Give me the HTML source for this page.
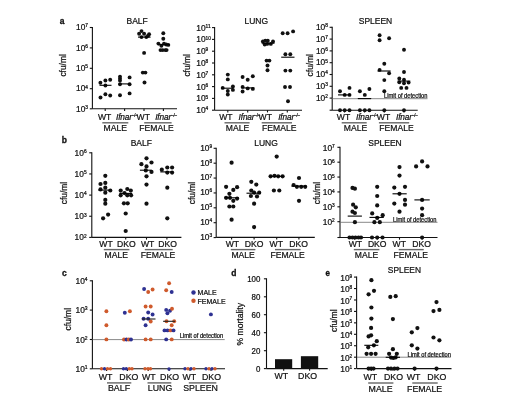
<!DOCTYPE html>
<html><head><meta charset="utf-8"><title>Figure</title>
<style>
html,body{margin:0;padding:0;background:#fff;}
body{width:520px;height:411px;overflow:hidden;}
svg{display:block;}
svg text{font-family:'Liberation Sans', Arial, Helvetica, sans-serif;fill:#111;stroke:#111;stroke-width:0.22px;}
svg text.pl{stroke-width:0.3px;}
</style></head><body>
<svg width="520" height="411" viewBox="0 0 520 411">
<rect width="520" height="411" fill="#fff"/>
<text transform="translate(59.8 23.6) scale(1 1.1)" font-size="8.5" class="pl" font-weight="bold">a</text>
<line x1="92.4" y1="27" x2="92.4" y2="108.8" stroke="#111" stroke-width="1.1"/>
<line x1="89.8" y1="27.5" x2="92.4" y2="27.5" stroke="#111" stroke-width="1.1"/>
<text transform="translate(75.98 30.2) scale(1 1.1)" font-size="8.4">10<tspan font-size="4.8" dy="-2.5">7</tspan></text>
<line x1="89.8" y1="47.9" x2="92.4" y2="47.9" stroke="#111" stroke-width="1.1"/>
<text transform="translate(75.98 50.6) scale(1 1.1)" font-size="8.4">10<tspan font-size="4.8" dy="-2.5">6</tspan></text>
<line x1="89.8" y1="68.3" x2="92.4" y2="68.3" stroke="#111" stroke-width="1.1"/>
<text transform="translate(75.98 71) scale(1 1.1)" font-size="8.4">10<tspan font-size="4.8" dy="-2.5">5</tspan></text>
<line x1="89.8" y1="88.7" x2="92.4" y2="88.7" stroke="#111" stroke-width="1.1"/>
<text transform="translate(75.98 91.4) scale(1 1.1)" font-size="8.4">10<tspan font-size="4.8" dy="-2.5">4</tspan></text>
<line x1="89.8" y1="108.8" x2="92.4" y2="108.8" stroke="#111" stroke-width="1.1"/>
<text transform="translate(75.98 111.5) scale(1 1.1)" font-size="8.4">10<tspan font-size="4.8" dy="-2.5">3</tspan></text>
<line x1="92.4" y1="108.8" x2="177" y2="108.8" stroke="#111" stroke-width="1.1"/>
<line x1="105.2" y1="108.8" x2="105.2" y2="111" stroke="#111" stroke-width="1.1"/>
<line x1="124.6" y1="108.8" x2="124.6" y2="111" stroke="#111" stroke-width="1.1"/>
<line x1="144" y1="108.8" x2="144" y2="111" stroke="#111" stroke-width="1.1"/>
<line x1="163.4" y1="108.8" x2="163.4" y2="111" stroke="#111" stroke-width="1.1"/>
<text transform="translate(137.1 23.5) scale(1 1.1)" font-size="8.5" text-anchor="middle">BALF</text>
<text transform="translate(63 65.4) rotate(-90) scale(1 1.1)" font-size="8.4" text-anchor="middle" dominant-baseline="central">cfu/ml</text>
<text transform="translate(104.6 119.8) scale(1 1.1)" font-size="8.6" text-anchor="middle">WT</text>
<text transform="translate(116 119.8) scale(1 1.1)" font-size="8.3"><tspan font-style="italic" letter-spacing="-0.15">Ifnar</tspan><tspan font-size="4.4" dy="-2.8" dx="0.1" letter-spacing="-0.2">–/–</tspan></text>
<text transform="translate(143.2 119.8) scale(1 1.1)" font-size="8.6" text-anchor="middle">WT</text>
<text transform="translate(155.2 119.8) scale(1 1.1)" font-size="8.3"><tspan font-style="italic" letter-spacing="-0.15">Ifnar</tspan><tspan font-size="4.4" dy="-2.8" dx="0.1" letter-spacing="-0.2">–/–</tspan></text>
<line x1="102.3" y1="122.8" x2="128.3" y2="122.8" stroke="#666" stroke-width="1.4"/>
<line x1="144.2" y1="122.8" x2="171.6" y2="122.8" stroke="#666" stroke-width="1.4"/>
<text transform="translate(115.3 130.8) scale(1 1.1)" font-size="8.6" text-anchor="middle">MALE</text>
<text transform="translate(156.5 130.8) scale(1 1.1)" font-size="8.6" text-anchor="middle">FEMALE</text>
<circle cx="100.4" cy="82.8" r="1.95" fill="#111"/>
<circle cx="105.4" cy="80.5" r="1.95" fill="#111"/>
<circle cx="110.2" cy="79.8" r="1.95" fill="#111"/>
<circle cx="105.4" cy="85.5" r="1.95" fill="#111"/>
<circle cx="105.4" cy="94.3" r="1.95" fill="#111"/>
<circle cx="110.2" cy="95.5" r="1.95" fill="#111"/>
<circle cx="100.5" cy="97.5" r="1.95" fill="#111"/>
<line x1="99.5" y1="85.3" x2="111.5" y2="85.3" stroke="#000" stroke-width="1.1"/>
<circle cx="120" cy="76.6" r="1.95" fill="#111"/>
<circle cx="120" cy="78.6" r="1.95" fill="#111"/>
<circle cx="120" cy="80.6" r="1.95" fill="#111"/>
<circle cx="129.6" cy="77.4" r="1.95" fill="#111"/>
<circle cx="120" cy="84.3" r="1.95" fill="#111"/>
<circle cx="129.6" cy="84.2" r="1.95" fill="#111"/>
<circle cx="129.6" cy="93.4" r="1.95" fill="#111"/>
<circle cx="120" cy="95.2" r="1.95" fill="#111"/>
<line x1="118.5" y1="83.9" x2="130.7" y2="83.9" stroke="#000" stroke-width="1.1"/>
<circle cx="141.5" cy="31.1" r="1.95" fill="#111"/>
<circle cx="139.1" cy="33.7" r="1.95" fill="#111"/>
<circle cx="144.1" cy="33.7" r="1.95" fill="#111"/>
<circle cx="149.1" cy="34.3" r="1.95" fill="#111"/>
<circle cx="141.5" cy="37.1" r="1.95" fill="#111"/>
<circle cx="146.3" cy="37.1" r="1.95" fill="#111"/>
<circle cx="148" cy="35.8" r="1.95" fill="#111"/>
<circle cx="144.1" cy="52.9" r="1.95" fill="#111"/>
<circle cx="142.8" cy="72.6" r="1.95" fill="#111"/>
<circle cx="145.4" cy="72.6" r="1.95" fill="#111"/>
<circle cx="144.5" cy="82.5" r="1.95" fill="#111"/>
<line x1="138" y1="37.1" x2="150.6" y2="37.1" stroke="#000" stroke-width="1.1"/>
<circle cx="163.3" cy="33.2" r="1.95" fill="#111"/>
<circle cx="163.3" cy="38.7" r="1.95" fill="#111"/>
<circle cx="158.4" cy="43.6" r="1.95" fill="#111"/>
<circle cx="161.4" cy="45.8" r="1.95" fill="#111"/>
<circle cx="164" cy="43.6" r="1.95" fill="#111"/>
<circle cx="166.2" cy="44.5" r="1.95" fill="#111"/>
<circle cx="168.3" cy="44.9" r="1.95" fill="#111"/>
<circle cx="160.5" cy="50.1" r="1.95" fill="#111"/>
<circle cx="162.7" cy="50.1" r="1.95" fill="#111"/>
<circle cx="165.3" cy="50.1" r="1.95" fill="#111"/>
<circle cx="166.6" cy="50.1" r="1.95" fill="#111"/>
<line x1="158" y1="44.7" x2="169.6" y2="44.7" stroke="#000" stroke-width="1.1"/>
<line x1="214.6" y1="27.1" x2="214.6" y2="110.2" stroke="#111" stroke-width="1.1"/>
<line x1="212" y1="27.6" x2="214.6" y2="27.6" stroke="#111" stroke-width="1.1"/>
<text transform="translate(196.28 30.6) scale(1 1.1)" font-size="8.4">10<tspan font-size="4.8" dy="-2.5">11</tspan></text>
<line x1="212" y1="39.4" x2="214.6" y2="39.4" stroke="#111" stroke-width="1.1"/>
<text transform="translate(196.28 42.4) scale(1 1.1)" font-size="8.4">10<tspan font-size="4.8" dy="-2.5">10</tspan></text>
<line x1="212" y1="51.2" x2="214.6" y2="51.2" stroke="#111" stroke-width="1.1"/>
<text transform="translate(196.28 54.2) scale(1 1.1)" font-size="8.4">10<tspan font-size="4.8" dy="-2.5">9</tspan></text>
<line x1="212" y1="63" x2="214.6" y2="63" stroke="#111" stroke-width="1.1"/>
<text transform="translate(196.28 66) scale(1 1.1)" font-size="8.4">10<tspan font-size="4.8" dy="-2.5">8</tspan></text>
<line x1="212" y1="74.8" x2="214.6" y2="74.8" stroke="#111" stroke-width="1.1"/>
<text transform="translate(196.28 77.8) scale(1 1.1)" font-size="8.4">10<tspan font-size="4.8" dy="-2.5">7</tspan></text>
<line x1="212" y1="86.6" x2="214.6" y2="86.6" stroke="#111" stroke-width="1.1"/>
<text transform="translate(196.28 89.6) scale(1 1.1)" font-size="8.4">10<tspan font-size="4.8" dy="-2.5">6</tspan></text>
<line x1="212" y1="98.4" x2="214.6" y2="98.4" stroke="#111" stroke-width="1.1"/>
<text transform="translate(196.28 101.4) scale(1 1.1)" font-size="8.4">10<tspan font-size="4.8" dy="-2.5">5</tspan></text>
<line x1="212" y1="110.2" x2="214.6" y2="110.2" stroke="#111" stroke-width="1.1"/>
<text transform="translate(196.28 113.2) scale(1 1.1)" font-size="8.4">10<tspan font-size="4.8" dy="-2.5">4</tspan></text>
<line x1="214.6" y1="110.2" x2="302" y2="110.2" stroke="#111" stroke-width="1.1"/>
<line x1="227.8" y1="110.2" x2="227.8" y2="112.4" stroke="#111" stroke-width="1.1"/>
<line x1="247.7" y1="110.2" x2="247.7" y2="112.4" stroke="#111" stroke-width="1.1"/>
<line x1="267.5" y1="110.2" x2="267.5" y2="112.4" stroke="#111" stroke-width="1.1"/>
<line x1="287.3" y1="110.2" x2="287.3" y2="112.4" stroke="#111" stroke-width="1.1"/>
<text transform="translate(256.3 23.5) scale(1 1.1)" font-size="8.5" text-anchor="middle">LUNG</text>
<text transform="translate(187 65.4) rotate(-90) scale(1 1.1)" font-size="8.4" text-anchor="middle" dominant-baseline="central">cfu/ml</text>
<text transform="translate(225.8 119.8) scale(1 1.1)" font-size="8.6" text-anchor="middle">WT</text>
<text transform="translate(238.6 119.8) scale(1 1.1)" font-size="8.3"><tspan font-style="italic" letter-spacing="-0.15">Ifnar</tspan><tspan font-size="4.4" dy="-2.8" dx="0.1" letter-spacing="-0.2">–/–</tspan></text>
<text transform="translate(265.2 119.8) scale(1 1.1)" font-size="8.6" text-anchor="middle">WT</text>
<text transform="translate(278.2 119.8) scale(1 1.1)" font-size="8.3"><tspan font-style="italic" letter-spacing="-0.15">Ifnar</tspan><tspan font-size="4.4" dy="-2.8" dx="0.1" letter-spacing="-0.2">–/–</tspan></text>
<line x1="224.5" y1="122.8" x2="249.6" y2="122.8" stroke="#666" stroke-width="1.4"/>
<line x1="261.7" y1="122.8" x2="292" y2="122.8" stroke="#666" stroke-width="1.4"/>
<text transform="translate(237.5 130.8) scale(1 1.1)" font-size="8.6" text-anchor="middle">MALE</text>
<text transform="translate(279.3 130.8) scale(1 1.1)" font-size="8.6" text-anchor="middle">FEMALE</text>
<circle cx="227.8" cy="74.6" r="1.95" fill="#111"/>
<circle cx="227.8" cy="79.4" r="1.95" fill="#111"/>
<circle cx="222.7" cy="87.9" r="1.95" fill="#111"/>
<circle cx="227.8" cy="91" r="1.95" fill="#111"/>
<circle cx="227.8" cy="94.5" r="1.95" fill="#111"/>
<circle cx="232.9" cy="86.4" r="1.95" fill="#111"/>
<circle cx="232.9" cy="89.9" r="1.95" fill="#111"/>
<line x1="221.6" y1="88.2" x2="233.4" y2="88.2" stroke="#000" stroke-width="1.1"/>
<circle cx="242.6" cy="77" r="1.95" fill="#111"/>
<circle cx="247.7" cy="79.7" r="1.95" fill="#111"/>
<circle cx="252.8" cy="76.3" r="1.95" fill="#111"/>
<circle cx="242.6" cy="86.9" r="1.95" fill="#111"/>
<circle cx="242.6" cy="91.5" r="1.95" fill="#111"/>
<circle cx="247.7" cy="88.4" r="1.95" fill="#111"/>
<circle cx="252.8" cy="88.9" r="1.95" fill="#111"/>
<line x1="241.6" y1="87.9" x2="254.4" y2="87.9" stroke="#000" stroke-width="1.1"/>
<circle cx="262.9" cy="41.4" r="1.95" fill="#111"/>
<circle cx="265.3" cy="40.6" r="1.95" fill="#111"/>
<circle cx="267.8" cy="40.8" r="1.95" fill="#111"/>
<circle cx="264.7" cy="44.5" r="1.95" fill="#111"/>
<circle cx="267.2" cy="43.9" r="1.95" fill="#111"/>
<circle cx="270.8" cy="43.9" r="1.95" fill="#111"/>
<circle cx="273" cy="41.4" r="1.95" fill="#111"/>
<circle cx="266.6" cy="60.6" r="1.95" fill="#111"/>
<circle cx="269.4" cy="60.6" r="1.95" fill="#111"/>
<circle cx="267.5" cy="65.5" r="1.95" fill="#111"/>
<circle cx="267.5" cy="70.3" r="1.95" fill="#111"/>
<line x1="261.7" y1="43.2" x2="274.5" y2="43.2" stroke="#000" stroke-width="1.1"/>
<circle cx="282.7" cy="33.3" r="1.95" fill="#111"/>
<circle cx="287.6" cy="33.3" r="1.95" fill="#111"/>
<circle cx="293.1" cy="31.4" r="1.95" fill="#111"/>
<circle cx="285.4" cy="54.2" r="1.95" fill="#111"/>
<circle cx="290.3" cy="54.2" r="1.95" fill="#111"/>
<circle cx="285.4" cy="70.6" r="1.95" fill="#111"/>
<circle cx="290.3" cy="70.6" r="1.95" fill="#111"/>
<circle cx="285" cy="87" r="1.95" fill="#111"/>
<circle cx="290" cy="87" r="1.95" fill="#111"/>
<circle cx="288" cy="101.25" r="1.95" fill="#111"/>
<line x1="281.2" y1="57.2" x2="294.5" y2="57.2" stroke="#000" stroke-width="1.1"/>
<line x1="332.2" y1="26.8" x2="332.2" y2="110.2" stroke="#111" stroke-width="1.1"/>
<line x1="329.6" y1="27.3" x2="332.2" y2="27.3" stroke="#111" stroke-width="1.1"/>
<text transform="translate(315.88 29.9) scale(1 1.1)" font-size="8.4">10<tspan font-size="4.8" dy="-2.4">8</tspan></text>
<line x1="329.6" y1="39.1" x2="332.2" y2="39.1" stroke="#111" stroke-width="1.1"/>
<text transform="translate(315.88 41.7) scale(1 1.1)" font-size="8.4">10<tspan font-size="4.8" dy="-2.4">7</tspan></text>
<line x1="329.6" y1="50.9" x2="332.2" y2="50.9" stroke="#111" stroke-width="1.1"/>
<text transform="translate(315.88 53.5) scale(1 1.1)" font-size="8.4">10<tspan font-size="4.8" dy="-2.4">6</tspan></text>
<line x1="329.6" y1="62.7" x2="332.2" y2="62.7" stroke="#111" stroke-width="1.1"/>
<text transform="translate(315.88 65.3) scale(1 1.1)" font-size="8.4">10<tspan font-size="4.8" dy="-2.4">5</tspan></text>
<line x1="329.6" y1="74.5" x2="332.2" y2="74.5" stroke="#111" stroke-width="1.1"/>
<text transform="translate(315.88 77.1) scale(1 1.1)" font-size="8.4">10<tspan font-size="4.8" dy="-2.4">4</tspan></text>
<line x1="329.6" y1="86.3" x2="332.2" y2="86.3" stroke="#111" stroke-width="1.1"/>
<text transform="translate(315.88 88.9) scale(1 1.1)" font-size="8.4">10<tspan font-size="4.8" dy="-2.4">3</tspan></text>
<line x1="329.6" y1="98.1" x2="332.2" y2="98.1" stroke="#111" stroke-width="1.1"/>
<text transform="translate(315.88 100.7) scale(1 1.1)" font-size="8.4">10<tspan font-size="4.8" dy="-2.4">2</tspan></text>
<line x1="329.6" y1="110.2" x2="332.2" y2="110.2" stroke="#111" stroke-width="1.1"/>
<line x1="332.2" y1="110.2" x2="417.7" y2="110.2" stroke="#111" stroke-width="1.1"/>
<line x1="344.5" y1="110.2" x2="344.5" y2="112.4" stroke="#111" stroke-width="1.1"/>
<line x1="364.5" y1="110.2" x2="364.5" y2="112.4" stroke="#111" stroke-width="1.1"/>
<line x1="384.3" y1="110.2" x2="384.3" y2="112.4" stroke="#111" stroke-width="1.1"/>
<line x1="404" y1="110.2" x2="404" y2="112.4" stroke="#111" stroke-width="1.1"/>
<line x1="332.2" y1="98.7" x2="427.5" y2="98.7" stroke="#6a6a6a" stroke-width="0.8"/>
<text transform="translate(427.4 98) scale(1 1.1)" font-size="5.75" text-anchor="end" fill="#222">Limit of detection</text>
<text transform="translate(375.5 23.5) scale(1 1.1)" font-size="8.5" text-anchor="middle">SPLEEN</text>
<text transform="translate(310 65.2) rotate(-90) scale(1 1.1)" font-size="8.4" text-anchor="middle" dominant-baseline="central">cfu/ml</text>
<text transform="translate(343.5 119.8) scale(1 1.1)" font-size="8.6" text-anchor="middle">WT</text>
<text transform="translate(356 119.8) scale(1 1.1)" font-size="8.3"><tspan font-style="italic" letter-spacing="-0.15">Ifnar</tspan><tspan font-size="4.4" dy="-2.8" dx="0.1" letter-spacing="-0.2">–/–</tspan></text>
<text transform="translate(383.5 119.8) scale(1 1.1)" font-size="8.6" text-anchor="middle">WT</text>
<text transform="translate(396 119.8) scale(1 1.1)" font-size="8.3"><tspan font-style="italic" letter-spacing="-0.15">Ifnar</tspan><tspan font-size="4.4" dy="-2.8" dx="0.1" letter-spacing="-0.2">–/–</tspan></text>
<line x1="341.7" y1="122.8" x2="366.7" y2="122.8" stroke="#666" stroke-width="1.4"/>
<line x1="378.9" y1="122.8" x2="409.2" y2="122.8" stroke="#666" stroke-width="1.4"/>
<text transform="translate(355.5 130.8) scale(1 1.1)" font-size="8.6" text-anchor="middle">MALE</text>
<text transform="translate(396.5 130.8) scale(1 1.1)" font-size="8.6" text-anchor="middle">FEMALE</text>
<circle cx="340" cy="91.3" r="1.95" fill="#111"/>
<circle cx="344.7" cy="94.9" r="1.95" fill="#111"/>
<circle cx="349.5" cy="94.9" r="1.95" fill="#111"/>
<circle cx="349.5" cy="87.9" r="1.95" fill="#111"/>
<circle cx="340" cy="110.2" r="1.95" fill="#111"/>
<circle cx="344.7" cy="110.2" r="1.95" fill="#111"/>
<circle cx="349.5" cy="110.2" r="1.95" fill="#111"/>
<line x1="338" y1="94.9" x2="351" y2="94.9" stroke="#000" stroke-width="1.1"/>
<circle cx="359.9" cy="91.3" r="1.95" fill="#111"/>
<circle cx="364.8" cy="94.9" r="1.95" fill="#111"/>
<circle cx="369.4" cy="89" r="1.95" fill="#111"/>
<circle cx="359.9" cy="110.2" r="1.95" fill="#111"/>
<circle cx="364.8" cy="110.2" r="1.95" fill="#111"/>
<circle cx="369.4" cy="110.2" r="1.95" fill="#111"/>
<line x1="357.8" y1="98.6" x2="371.2" y2="98.6" stroke="#000" stroke-width="1.1"/>
<circle cx="379.6" cy="35.2" r="1.95" fill="#111"/>
<circle cx="379.6" cy="40.3" r="1.95" fill="#111"/>
<circle cx="389.1" cy="38.3" r="1.95" fill="#111"/>
<circle cx="384.3" cy="63.8" r="1.95" fill="#111"/>
<circle cx="379.6" cy="69.9" r="1.95" fill="#111"/>
<circle cx="389.1" cy="73.3" r="1.95" fill="#111"/>
<circle cx="384.3" cy="80.1" r="1.95" fill="#111"/>
<circle cx="384.3" cy="91.3" r="1.95" fill="#111"/>
<circle cx="384.3" cy="110.2" r="1.95" fill="#111"/>
<line x1="377.5" y1="71" x2="390.6" y2="71" stroke="#000" stroke-width="1.1"/>
<circle cx="404" cy="49.8" r="1.95" fill="#111"/>
<circle cx="404" cy="72" r="1.95" fill="#111"/>
<circle cx="399.3" cy="78.4" r="1.95" fill="#111"/>
<circle cx="399.3" cy="82.2" r="1.95" fill="#111"/>
<circle cx="404" cy="79.7" r="1.95" fill="#111"/>
<circle cx="404" cy="83.3" r="1.95" fill="#111"/>
<circle cx="408.6" cy="82.6" r="1.95" fill="#111"/>
<circle cx="401.2" cy="87.9" r="1.95" fill="#111"/>
<circle cx="406.5" cy="87.9" r="1.95" fill="#111"/>
<circle cx="404" cy="110.2" r="1.95" fill="#111"/>
<line x1="397.6" y1="81.1" x2="410.3" y2="81.1" stroke="#000" stroke-width="1.1"/>
<text transform="translate(61.7 143.1) scale(1 1.1)" font-size="8.5" class="pl" font-weight="bold">b</text>
<line x1="91.8" y1="152.3" x2="91.8" y2="237.4" stroke="#111" stroke-width="1.1"/>
<line x1="89.2" y1="152.8" x2="91.8" y2="152.8" stroke="#111" stroke-width="1.1"/>
<text transform="translate(74.58 155.8) scale(1 1.1)" font-size="8.4">10<tspan font-size="4.8" dy="-2.5">6</tspan></text>
<line x1="89.2" y1="173.95" x2="91.8" y2="173.95" stroke="#111" stroke-width="1.1"/>
<text transform="translate(74.58 176.95) scale(1 1.1)" font-size="8.4">10<tspan font-size="4.8" dy="-2.5">5</tspan></text>
<line x1="89.2" y1="195.1" x2="91.8" y2="195.1" stroke="#111" stroke-width="1.1"/>
<text transform="translate(74.58 198.1) scale(1 1.1)" font-size="8.4">10<tspan font-size="4.8" dy="-2.5">4</tspan></text>
<line x1="89.2" y1="216.25" x2="91.8" y2="216.25" stroke="#111" stroke-width="1.1"/>
<text transform="translate(74.58 219.25) scale(1 1.1)" font-size="8.4">10<tspan font-size="4.8" dy="-2.5">3</tspan></text>
<line x1="89.2" y1="237.4" x2="91.8" y2="237.4" stroke="#111" stroke-width="1.1"/>
<text transform="translate(74.58 240.4) scale(1 1.1)" font-size="8.4">10<tspan font-size="4.8" dy="-2.5">2</tspan></text>
<line x1="91.8" y1="237.4" x2="181.4" y2="237.4" stroke="#111" stroke-width="1.1"/>
<line x1="105.3" y1="237.4" x2="105.3" y2="239.6" stroke="#111" stroke-width="1.1"/>
<line x1="125.7" y1="237.4" x2="125.7" y2="239.6" stroke="#111" stroke-width="1.1"/>
<line x1="146.5" y1="237.4" x2="146.5" y2="239.6" stroke="#111" stroke-width="1.1"/>
<line x1="166.9" y1="237.4" x2="166.9" y2="239.6" stroke="#111" stroke-width="1.1"/>
<text transform="translate(141.3 145.7) scale(1 1.1)" font-size="8.5" text-anchor="middle">BALF</text>
<text transform="translate(63.5 193.1) rotate(-90) scale(1 1.1)" font-size="8.4" text-anchor="middle" dominant-baseline="central">cfu/ml</text>
<text transform="translate(106 246.8) scale(1 1.1)" font-size="8.6" text-anchor="middle">WT</text>
<text transform="translate(126.4 246.8) scale(1 1.1)" font-size="8.6" text-anchor="middle">DKO</text>
<text transform="translate(147.6 246.8) scale(1 1.1)" font-size="8.6" text-anchor="middle">WT</text>
<text transform="translate(167.5 246.8) scale(1 1.1)" font-size="8.6" text-anchor="middle">DKO</text>
<line x1="103.8" y1="249.6" x2="129.4" y2="249.6" stroke="#666" stroke-width="1.4"/>
<line x1="144.8" y1="249.6" x2="172.7" y2="249.6" stroke="#666" stroke-width="1.4"/>
<text transform="translate(116.3 258) scale(1 1.1)" font-size="8.6" text-anchor="middle">MALE</text>
<text transform="translate(158 258) scale(1 1.1)" font-size="8.6" text-anchor="middle">FEMALE</text>
<circle cx="105.3" cy="175.8" r="2.1" fill="#111"/>
<circle cx="105.3" cy="182.9" r="2.1" fill="#111"/>
<circle cx="100.5" cy="184" r="2.1" fill="#111"/>
<circle cx="100.5" cy="189.4" r="2.1" fill="#111"/>
<circle cx="105.3" cy="187.7" r="2.1" fill="#111"/>
<circle cx="110.3" cy="190.5" r="2.1" fill="#111"/>
<circle cx="105.3" cy="192.7" r="2.1" fill="#111"/>
<circle cx="105.3" cy="199.9" r="2.1" fill="#111"/>
<circle cx="105.3" cy="203.7" r="2.1" fill="#111"/>
<circle cx="103.1" cy="218.3" r="2.1" fill="#111"/>
<circle cx="108.1" cy="214.6" r="2.1" fill="#111"/>
<line x1="98.3" y1="190.1" x2="110.3" y2="190.1" stroke="#000" stroke-width="1.1"/>
<circle cx="120.7" cy="190.6" r="2.1" fill="#111"/>
<circle cx="127.3" cy="189" r="2.1" fill="#111"/>
<circle cx="130.8" cy="190.6" r="2.1" fill="#111"/>
<circle cx="124.5" cy="193.1" r="2.1" fill="#111"/>
<circle cx="120.7" cy="195.3" r="2.1" fill="#111"/>
<circle cx="127.3" cy="195.3" r="2.1" fill="#111"/>
<circle cx="131.1" cy="195.3" r="2.1" fill="#111"/>
<circle cx="123.9" cy="203.3" r="2.1" fill="#111"/>
<circle cx="127.7" cy="203.3" r="2.1" fill="#111"/>
<circle cx="125.7" cy="213.5" r="2.1" fill="#111"/>
<circle cx="125.7" cy="231" r="2.1" fill="#111"/>
<line x1="119.4" y1="193.4" x2="132.1" y2="193.4" stroke="#000" stroke-width="1.1"/>
<circle cx="146.5" cy="158.3" r="2.1" fill="#111"/>
<circle cx="151.5" cy="162.5" r="2.1" fill="#111"/>
<circle cx="141.4" cy="164.2" r="2.1" fill="#111"/>
<circle cx="146.5" cy="166.4" r="2.1" fill="#111"/>
<circle cx="145.8" cy="170.4" r="2.1" fill="#111"/>
<circle cx="151.5" cy="171.9" r="2.1" fill="#111"/>
<circle cx="146.5" cy="176.3" r="2.1" fill="#111"/>
<circle cx="146.5" cy="184.6" r="2.1" fill="#111"/>
<circle cx="146.5" cy="203.7" r="2.1" fill="#111"/>
<line x1="139.9" y1="170.2" x2="151.5" y2="170.2" stroke="#000" stroke-width="1.1"/>
<circle cx="161.8" cy="169.7" r="2.1" fill="#111"/>
<circle cx="167.3" cy="167.5" r="2.1" fill="#111"/>
<circle cx="172.1" cy="167.5" r="2.1" fill="#111"/>
<circle cx="167.3" cy="172.6" r="2.1" fill="#111"/>
<circle cx="172.1" cy="172.6" r="2.1" fill="#111"/>
<circle cx="167.3" cy="187.7" r="2.1" fill="#111"/>
<circle cx="167.3" cy="218.3" r="2.1" fill="#111"/>
<line x1="160.3" y1="171.9" x2="172.8" y2="171.9" stroke="#000" stroke-width="1.1"/>
<line x1="216.2" y1="147.8" x2="216.2" y2="237.58" stroke="#111" stroke-width="1.1"/>
<line x1="213.6" y1="148.3" x2="216.2" y2="148.3" stroke="#111" stroke-width="1.1"/>
<text transform="translate(200.18 150.7) scale(1 1.1)" font-size="8.4">10<tspan font-size="4.8" dy="-2.6">9</tspan></text>
<line x1="213.6" y1="163.18" x2="216.2" y2="163.18" stroke="#111" stroke-width="1.1"/>
<text transform="translate(200.18 165.58) scale(1 1.1)" font-size="8.4">10<tspan font-size="4.8" dy="-2.6">8</tspan></text>
<line x1="213.6" y1="178.06" x2="216.2" y2="178.06" stroke="#111" stroke-width="1.1"/>
<text transform="translate(200.18 180.46) scale(1 1.1)" font-size="8.4">10<tspan font-size="4.8" dy="-2.6">7</tspan></text>
<line x1="213.6" y1="192.94" x2="216.2" y2="192.94" stroke="#111" stroke-width="1.1"/>
<text transform="translate(200.18 195.34) scale(1 1.1)" font-size="8.4">10<tspan font-size="4.8" dy="-2.6">6</tspan></text>
<line x1="213.6" y1="207.82" x2="216.2" y2="207.82" stroke="#111" stroke-width="1.1"/>
<text transform="translate(200.18 210.22) scale(1 1.1)" font-size="8.4">10<tspan font-size="4.8" dy="-2.6">5</tspan></text>
<line x1="213.6" y1="222.7" x2="216.2" y2="222.7" stroke="#111" stroke-width="1.1"/>
<text transform="translate(200.18 225.1) scale(1 1.1)" font-size="8.4">10<tspan font-size="4.8" dy="-2.6">4</tspan></text>
<line x1="213.6" y1="237.58" x2="216.2" y2="237.58" stroke="#111" stroke-width="1.1"/>
<text transform="translate(200.18 239.98) scale(1 1.1)" font-size="8.4">10<tspan font-size="4.8" dy="-2.6">3</tspan></text>
<line x1="216.2" y1="237.4" x2="314.8" y2="237.4" stroke="#111" stroke-width="1.1"/>
<line x1="231.6" y1="237.4" x2="231.6" y2="239.6" stroke="#111" stroke-width="1.1"/>
<line x1="254.1" y1="237.4" x2="254.1" y2="239.6" stroke="#111" stroke-width="1.1"/>
<line x1="276.7" y1="237.4" x2="276.7" y2="239.6" stroke="#111" stroke-width="1.1"/>
<line x1="298.9" y1="237.4" x2="298.9" y2="239.6" stroke="#111" stroke-width="1.1"/>
<text transform="translate(266 145.7) scale(1 1.1)" font-size="8.5" text-anchor="middle">LUNG</text>
<text transform="translate(192.3 193.1) rotate(-90) scale(1 1.1)" font-size="8.4" text-anchor="middle" dominant-baseline="central">cfu/ml</text>
<text transform="translate(232.4 246.8) scale(1 1.1)" font-size="8.6" text-anchor="middle">WT</text>
<text transform="translate(254 246.8) scale(1 1.1)" font-size="8.6" text-anchor="middle">DKO</text>
<text transform="translate(276.2 246.8) scale(1 1.1)" font-size="8.6" text-anchor="middle">WT</text>
<text transform="translate(298.5 246.8) scale(1 1.1)" font-size="8.6" text-anchor="middle">DKO</text>
<line x1="230.8" y1="249.6" x2="255.4" y2="249.6" stroke="#666" stroke-width="1.4"/>
<line x1="275" y1="249.6" x2="300.6" y2="249.6" stroke="#666" stroke-width="1.4"/>
<text transform="translate(243.1 258) scale(1 1.1)" font-size="8.6" text-anchor="middle">MALE</text>
<text transform="translate(287.6 258) scale(1 1.1)" font-size="8.6" text-anchor="middle">FEMALE</text>
<circle cx="231.6" cy="162.7" r="2.1" fill="#111"/>
<circle cx="226.1" cy="186.8" r="2.1" fill="#111"/>
<circle cx="237.1" cy="187.2" r="2.1" fill="#111"/>
<circle cx="233.3" cy="189.9" r="2.1" fill="#111"/>
<circle cx="229.4" cy="193.8" r="2.1" fill="#111"/>
<circle cx="226.1" cy="197.8" r="2.1" fill="#111"/>
<circle cx="230" cy="197.8" r="2.1" fill="#111"/>
<circle cx="237.1" cy="198.6" r="2.1" fill="#111"/>
<circle cx="233.3" cy="200.8" r="2.1" fill="#111"/>
<circle cx="229.4" cy="206.5" r="2.1" fill="#111"/>
<circle cx="233.3" cy="206.5" r="2.1" fill="#111"/>
<circle cx="231.6" cy="219.7" r="2.1" fill="#111"/>
<line x1="224.6" y1="197.8" x2="238.8" y2="197.8" stroke="#000" stroke-width="1.1"/>
<circle cx="251.3" cy="181.8" r="2.1" fill="#111"/>
<circle cx="256.3" cy="184.6" r="2.1" fill="#111"/>
<circle cx="251.3" cy="190.5" r="2.1" fill="#111"/>
<circle cx="254.1" cy="192.7" r="2.1" fill="#111"/>
<circle cx="259.2" cy="192.7" r="2.1" fill="#111"/>
<circle cx="250.9" cy="196" r="2.1" fill="#111"/>
<circle cx="257" cy="196.4" r="2.1" fill="#111"/>
<circle cx="254.1" cy="203.7" r="2.1" fill="#111"/>
<circle cx="254.1" cy="227.1" r="2.1" fill="#111"/>
<line x1="246.5" y1="193.2" x2="260.7" y2="193.2" stroke="#000" stroke-width="1.1"/>
<circle cx="276.7" cy="156.6" r="2.1" fill="#111"/>
<circle cx="270.6" cy="176.3" r="2.1" fill="#111"/>
<circle cx="274.5" cy="175.8" r="2.1" fill="#111"/>
<circle cx="278.2" cy="176.3" r="2.1" fill="#111"/>
<circle cx="282.6" cy="176.3" r="2.1" fill="#111"/>
<circle cx="273.9" cy="190.5" r="2.1" fill="#111"/>
<circle cx="279.3" cy="190.5" r="2.1" fill="#111"/>
<line x1="269.5" y1="176.3" x2="283.7" y2="176.3" stroke="#000" stroke-width="1.1"/>
<circle cx="299" cy="178" r="2.1" fill="#111"/>
<circle cx="293.6" cy="185" r="2.1" fill="#111"/>
<circle cx="296.9" cy="186.8" r="2.1" fill="#111"/>
<circle cx="301.2" cy="186.8" r="2.1" fill="#111"/>
<circle cx="305.2" cy="186.8" r="2.1" fill="#111"/>
<circle cx="299" cy="200.8" r="2.1" fill="#111"/>
<line x1="291.4" y1="186.1" x2="306.7" y2="186.1" stroke="#000" stroke-width="1.1"/>
<line x1="340" y1="146.8" x2="340" y2="237.5" stroke="#111" stroke-width="1.1"/>
<line x1="337.4" y1="147.3" x2="340" y2="147.3" stroke="#111" stroke-width="1.1"/>
<text transform="translate(322.78 150.5) scale(1 1.1)" font-size="8.4">10<tspan font-size="4.8" dy="-2.4">7</tspan></text>
<line x1="337.4" y1="162.18" x2="340" y2="162.18" stroke="#111" stroke-width="1.1"/>
<text transform="translate(322.78 165.38) scale(1 1.1)" font-size="8.4">10<tspan font-size="4.8" dy="-2.4">6</tspan></text>
<line x1="337.4" y1="177.06" x2="340" y2="177.06" stroke="#111" stroke-width="1.1"/>
<text transform="translate(322.78 180.26) scale(1 1.1)" font-size="8.4">10<tspan font-size="4.8" dy="-2.4">5</tspan></text>
<line x1="337.4" y1="191.94" x2="340" y2="191.94" stroke="#111" stroke-width="1.1"/>
<text transform="translate(322.78 195.14) scale(1 1.1)" font-size="8.4">10<tspan font-size="4.8" dy="-2.4">4</tspan></text>
<line x1="337.4" y1="206.82" x2="340" y2="206.82" stroke="#111" stroke-width="1.1"/>
<text transform="translate(322.78 210.02) scale(1 1.1)" font-size="8.4">10<tspan font-size="4.8" dy="-2.4">3</tspan></text>
<line x1="337.4" y1="221.7" x2="340" y2="221.7" stroke="#111" stroke-width="1.1"/>
<text transform="translate(322.78 224.9) scale(1 1.1)" font-size="8.4">10<tspan font-size="4.8" dy="-2.4">2</tspan></text>
<line x1="337.4" y1="237.5" x2="340" y2="237.5" stroke="#111" stroke-width="1.1"/>
<line x1="340" y1="237.5" x2="437.5" y2="237.5" stroke="#111" stroke-width="1.1"/>
<line x1="354.5" y1="237.5" x2="354.5" y2="239.7" stroke="#111" stroke-width="1.1"/>
<line x1="377.2" y1="237.5" x2="377.2" y2="239.7" stroke="#111" stroke-width="1.1"/>
<line x1="399.5" y1="237.5" x2="399.5" y2="239.7" stroke="#111" stroke-width="1.1"/>
<line x1="422.1" y1="237.5" x2="422.1" y2="239.7" stroke="#111" stroke-width="1.1"/>
<line x1="340" y1="222.3" x2="437.5" y2="222.3" stroke="#6a6a6a" stroke-width="0.8"/>
<text transform="translate(436.4 221.9) scale(1 1.1)" font-size="5.75" text-anchor="end" fill="#222">Limit of detection</text>
<text transform="translate(385 145.7) scale(1 1.1)" font-size="8.5" text-anchor="middle">SPLEEN</text>
<text transform="translate(317.3 193) rotate(-90) scale(1 1.1)" font-size="8.4" text-anchor="middle" dominant-baseline="central">cfu/ml</text>
<text transform="translate(355.4 246.8) scale(1 1.1)" font-size="8.6" text-anchor="middle">WT</text>
<text transform="translate(377.2 246.8) scale(1 1.1)" font-size="8.6" text-anchor="middle">DKO</text>
<text transform="translate(399.2 246.8) scale(1 1.1)" font-size="8.6" text-anchor="middle">WT</text>
<text transform="translate(421.5 246.8) scale(1 1.1)" font-size="8.6" text-anchor="middle">DKO</text>
<line x1="353.8" y1="249.6" x2="379.4" y2="249.6" stroke="#666" stroke-width="1.4"/>
<line x1="398.7" y1="249.6" x2="423.7" y2="249.6" stroke="#666" stroke-width="1.4"/>
<text transform="translate(366.5 258) scale(1 1.1)" font-size="8.6" text-anchor="middle">MALE</text>
<text transform="translate(410.7 258) scale(1 1.1)" font-size="8.6" text-anchor="middle">FEMALE</text>
<circle cx="352.5" cy="187.9" r="2.1" fill="#111"/>
<circle cx="354.9" cy="188.7" r="2.1" fill="#111"/>
<circle cx="353.1" cy="204.7" r="2.1" fill="#111"/>
<circle cx="355.8" cy="207.3" r="2.1" fill="#111"/>
<circle cx="352.5" cy="211.7" r="2.1" fill="#111"/>
<circle cx="354.9" cy="213" r="2.1" fill="#111"/>
<circle cx="354.9" cy="222.2" r="2.1" fill="#111"/>
<circle cx="349.5" cy="237.5" r="2.1" fill="#111"/>
<circle cx="352.5" cy="237.5" r="2.1" fill="#111"/>
<circle cx="355.5" cy="237.5" r="2.1" fill="#111"/>
<circle cx="358.5" cy="237.5" r="2.1" fill="#111"/>
<circle cx="361" cy="237.5" r="2.1" fill="#111"/>
<line x1="347.7" y1="216.1" x2="361.9" y2="216.1" stroke="#000" stroke-width="1.1"/>
<circle cx="377.2" cy="186.8" r="2.1" fill="#111"/>
<circle cx="377.2" cy="196" r="2.1" fill="#111"/>
<circle cx="377.2" cy="205.4" r="2.1" fill="#111"/>
<circle cx="372.2" cy="213.4" r="2.1" fill="#111"/>
<circle cx="382.7" cy="215.2" r="2.1" fill="#111"/>
<circle cx="377.2" cy="217.9" r="2.1" fill="#111"/>
<circle cx="374.4" cy="222.2" r="2.1" fill="#111"/>
<circle cx="379.8" cy="222.2" r="2.1" fill="#111"/>
<circle cx="372" cy="237.5" r="2.1" fill="#111"/>
<circle cx="377.2" cy="237.5" r="2.1" fill="#111"/>
<circle cx="382.5" cy="237.5" r="2.1" fill="#111"/>
<line x1="369.5" y1="217.4" x2="383.8" y2="217.4" stroke="#000" stroke-width="1.1"/>
<circle cx="399.5" cy="167.1" r="2.1" fill="#111"/>
<circle cx="399.5" cy="175.6" r="2.1" fill="#111"/>
<circle cx="394.3" cy="187.6" r="2.1" fill="#111"/>
<circle cx="405" cy="186.8" r="2.1" fill="#111"/>
<circle cx="399.5" cy="193.8" r="2.1" fill="#111"/>
<circle cx="394.3" cy="203.6" r="2.1" fill="#111"/>
<circle cx="405" cy="199.9" r="2.1" fill="#111"/>
<circle cx="405" cy="204.7" r="2.1" fill="#111"/>
<circle cx="399.5" cy="211.7" r="2.1" fill="#111"/>
<line x1="392.5" y1="193.8" x2="406.7" y2="193.8" stroke="#000" stroke-width="1.1"/>
<circle cx="416.1" cy="166.4" r="2.1" fill="#111"/>
<circle cx="422.1" cy="161.4" r="2.1" fill="#111"/>
<circle cx="427.5" cy="166.4" r="2.1" fill="#111"/>
<circle cx="422.1" cy="199.9" r="2.1" fill="#111"/>
<circle cx="422.1" cy="208.6" r="2.1" fill="#111"/>
<circle cx="422.1" cy="215.2" r="2.1" fill="#111"/>
<circle cx="422.1" cy="237.5" r="2.1" fill="#111"/>
<line x1="414.4" y1="199.9" x2="429.7" y2="199.9" stroke="#000" stroke-width="1.1"/>
<text transform="translate(61.9 276.3) scale(1 1.1)" font-size="8.5" class="pl" font-weight="bold">c</text>
<line x1="92.4" y1="280.3" x2="92.4" y2="368.8" stroke="#111" stroke-width="1.1"/>
<line x1="89.8" y1="280.8" x2="92.4" y2="280.8" stroke="#111" stroke-width="1.1"/>
<text transform="translate(75.48 283.9) scale(1 1.1)" font-size="8.4">10<tspan font-size="5" dy="-2.6">4</tspan></text>
<line x1="89.8" y1="310.1" x2="92.4" y2="310.1" stroke="#111" stroke-width="1.1"/>
<text transform="translate(75.48 313.2) scale(1 1.1)" font-size="8.4">10<tspan font-size="5" dy="-2.6">3</tspan></text>
<line x1="89.8" y1="339.5" x2="92.4" y2="339.5" stroke="#111" stroke-width="1.1"/>
<text transform="translate(75.48 342.6) scale(1 1.1)" font-size="8.4">10<tspan font-size="5" dy="-2.6">2</tspan></text>
<line x1="89.8" y1="368.8" x2="92.4" y2="368.8" stroke="#111" stroke-width="1.1"/>
<text transform="translate(75.48 371.9) scale(1 1.1)" font-size="8.4">10<tspan font-size="5" dy="-2.6">1</tspan></text>
<line x1="92.4" y1="368.8" x2="225" y2="368.8" stroke="#111" stroke-width="1.1"/>
<line x1="106.4" y1="368.8" x2="106.4" y2="371" stroke="#111" stroke-width="1.1"/>
<line x1="127.5" y1="368.8" x2="127.5" y2="371" stroke="#111" stroke-width="1.1"/>
<line x1="148.2" y1="368.8" x2="148.2" y2="371" stroke="#111" stroke-width="1.1"/>
<line x1="169.1" y1="368.8" x2="169.1" y2="371" stroke="#111" stroke-width="1.1"/>
<line x1="190" y1="368.8" x2="190" y2="371" stroke="#111" stroke-width="1.1"/>
<line x1="211" y1="368.8" x2="211" y2="371" stroke="#111" stroke-width="1.1"/>
<line x1="92.4" y1="339.6" x2="224.7" y2="339.6" stroke="#6a6a6a" stroke-width="0.8"/>
<text transform="translate(223.2 337.6) scale(1 1.1)" font-size="5.75" text-anchor="end" fill="#222">Limit of detection</text>
<text transform="translate(67.4 319.3) rotate(-90) scale(1 1.1)" font-size="8.5" text-anchor="middle" dominant-baseline="central">cfu/ml</text>
<text transform="translate(105.6 380) scale(1 1.1)" font-size="8.8" text-anchor="middle">WT</text>
<text transform="translate(128.8 380) scale(1 1.1)" font-size="8.8" text-anchor="middle">DKO</text>
<text transform="translate(148.8 380) scale(1 1.1)" font-size="8.8" text-anchor="middle">WT</text>
<text transform="translate(169.6 380) scale(1 1.1)" font-size="8.8" text-anchor="middle">DKO</text>
<text transform="translate(189.4 380) scale(1 1.1)" font-size="8.8" text-anchor="middle">WT</text>
<text transform="translate(211.5 380) scale(1 1.1)" font-size="8.8" text-anchor="middle">DKO</text>
<line x1="107" y1="382.9" x2="131.3" y2="382.9" stroke="#666" stroke-width="1.4"/>
<line x1="147.5" y1="382.9" x2="171.3" y2="382.9" stroke="#666" stroke-width="1.4"/>
<line x1="188.8" y1="382.9" x2="216.3" y2="382.9" stroke="#666" stroke-width="1.4"/>
<text transform="translate(119 391.4) scale(1 1.1)" font-size="8.8" text-anchor="middle">BALF</text>
<text transform="translate(160 391.4) scale(1 1.1)" font-size="8.8" text-anchor="middle">LUNG</text>
<text transform="translate(200.6 391.4) scale(1 1.1)" font-size="8.8" text-anchor="middle">SPLEEN</text>
<circle cx="193.5" cy="292.5" r="2.2" fill="#2e3192"/>
<text transform="translate(197.6 295.2) scale(1 1.1)" font-size="7">MALE</text>
<circle cx="193.5" cy="300.8" r="2.2" fill="#cf5a2c"/>
<text transform="translate(197.6 303.6) scale(1 1.1)" font-size="7">FEMALE</text>
<circle cx="106.4" cy="311.3" r="1.95" fill="#cf5a2c"/>
<circle cx="106.4" cy="325.3" r="1.95" fill="#cf5a2c"/>
<circle cx="106.4" cy="339.4" r="1.95" fill="#cf5a2c"/>
<circle cx="101.5" cy="368.8" r="1.7" fill="#cf5a2c"/>
<circle cx="104.5" cy="368.8" r="1.7" fill="#2e3192"/>
<circle cx="107.5" cy="368.8" r="1.7" fill="#cf5a2c"/>
<circle cx="110.5" cy="368.8" r="1.7" fill="#cf5a2c"/>
<circle cx="124.8" cy="312.8" r="1.95" fill="#2e3192"/>
<circle cx="129.9" cy="311.3" r="1.95" fill="#cf5a2c"/>
<circle cx="124" cy="339.5" r="1.95" fill="#cf5a2c"/>
<circle cx="126.5" cy="339.5" r="1.95" fill="#2e3192"/>
<circle cx="128.8" cy="339.5" r="1.95" fill="#cf5a2c"/>
<circle cx="131" cy="339.5" r="1.95" fill="#2e3192"/>
<circle cx="123.5" cy="368.8" r="1.7" fill="#2e3192"/>
<circle cx="126.3" cy="368.8" r="1.7" fill="#2e3192"/>
<circle cx="129.3" cy="368.8" r="1.7" fill="#cf5a2c"/>
<circle cx="132" cy="368.8" r="1.7" fill="#cf5a2c"/>
<circle cx="144.1" cy="289" r="1.95" fill="#2e3192"/>
<circle cx="148.2" cy="292" r="1.95" fill="#cf5a2c"/>
<circle cx="152.6" cy="289.5" r="1.95" fill="#cf5a2c"/>
<circle cx="145.6" cy="306.5" r="1.95" fill="#cf5a2c"/>
<circle cx="150.7" cy="306.5" r="1.95" fill="#cf5a2c"/>
<circle cx="148.2" cy="312.5" r="1.95" fill="#2e3192"/>
<circle cx="152.6" cy="314.5" r="1.95" fill="#2e3192"/>
<circle cx="143.6" cy="318.8" r="1.95" fill="#2e3192"/>
<circle cx="148.2" cy="318.8" r="1.95" fill="#2e3192"/>
<circle cx="150.7" cy="321.5" r="1.95" fill="#cf5a2c"/>
<circle cx="145.6" cy="325.3" r="1.95" fill="#2e3192"/>
<circle cx="145.6" cy="339.4" r="1.95" fill="#cf5a2c"/>
<circle cx="150.7" cy="339.4" r="1.95" fill="#cf5a2c"/>
<circle cx="145" cy="368.8" r="1.7" fill="#cf5a2c"/>
<circle cx="148" cy="368.8" r="1.7" fill="#cf5a2c"/>
<circle cx="150.5" cy="368.8" r="1.7" fill="#cf5a2c"/>
<circle cx="169.1" cy="283.2" r="1.95" fill="#cf5a2c"/>
<circle cx="166.2" cy="290.3" r="1.95" fill="#cf5a2c"/>
<circle cx="171.7" cy="292" r="1.95" fill="#2e3192"/>
<circle cx="166.2" cy="309.9" r="1.95" fill="#2e3192"/>
<circle cx="170" cy="310.8" r="1.95" fill="#2e3192"/>
<circle cx="172" cy="308.7" r="1.95" fill="#cf5a2c"/>
<circle cx="167.4" cy="313.3" r="1.95" fill="#2e3192"/>
<circle cx="166.5" cy="321.3" r="1.95" fill="#cf5a2c"/>
<circle cx="174.2" cy="321.3" r="1.95" fill="#cf5a2c"/>
<circle cx="171.7" cy="325.3" r="1.95" fill="#cf5a2c"/>
<circle cx="164.5" cy="330.4" r="1.95" fill="#2e3192"/>
<circle cx="167.5" cy="330.4" r="1.95" fill="#2e3192"/>
<circle cx="170.5" cy="330.4" r="1.95" fill="#cf5a2c"/>
<circle cx="173.5" cy="330.4" r="1.95" fill="#2e3192"/>
<circle cx="166.2" cy="339.4" r="1.95" fill="#2e3192"/>
<circle cx="171.7" cy="339.4" r="1.95" fill="#cf5a2c"/>
<circle cx="169" cy="369" r="1.7" fill="#2e3192"/>
<circle cx="185" cy="368.8" r="1.7" fill="#2e3192"/>
<circle cx="188" cy="368.8" r="1.7" fill="#cf5a2c"/>
<circle cx="191" cy="368.8" r="1.7" fill="#2e3192"/>
<circle cx="194" cy="368.8" r="1.7" fill="#cf5a2c"/>
<circle cx="210.9" cy="314.4" r="1.95" fill="#2e3192"/>
<circle cx="206" cy="368.8" r="1.7" fill="#2e3192"/>
<circle cx="209" cy="368.8" r="1.7" fill="#cf5a2c"/>
<circle cx="212" cy="368.8" r="1.7" fill="#2e3192"/>
<circle cx="215" cy="368.8" r="1.7" fill="#cf5a2c"/>
<line x1="141.8" y1="319" x2="155.5" y2="319" stroke="#222" stroke-width="1.1"/>
<line x1="163.1" y1="321.3" x2="175.1" y2="321.3" stroke="#222" stroke-width="1.1"/>
<text transform="translate(231.3 276.4) scale(1 1.1)" font-size="8.5" class="pl" font-weight="bold">d</text>
<line x1="266.5" y1="278.3" x2="266.5" y2="368.6" stroke="#111" stroke-width="1.1"/>
<line x1="263.9" y1="278.8" x2="266.5" y2="278.8" stroke="#111" stroke-width="1.1"/>
<text transform="translate(260.4 281.9) scale(1 1.1)" font-size="7.9" text-anchor="end">100</text>
<line x1="263.9" y1="296.8" x2="266.5" y2="296.8" stroke="#111" stroke-width="1.1"/>
<text transform="translate(260.4 299.9) scale(1 1.1)" font-size="7.9" text-anchor="end">80</text>
<line x1="263.9" y1="314.7" x2="266.5" y2="314.7" stroke="#111" stroke-width="1.1"/>
<text transform="translate(260.4 317.8) scale(1 1.1)" font-size="7.9" text-anchor="end">60</text>
<line x1="263.9" y1="332.7" x2="266.5" y2="332.7" stroke="#111" stroke-width="1.1"/>
<text transform="translate(260.4 335.8) scale(1 1.1)" font-size="7.9" text-anchor="end">40</text>
<line x1="263.9" y1="350.7" x2="266.5" y2="350.7" stroke="#111" stroke-width="1.1"/>
<text transform="translate(260.4 353.8) scale(1 1.1)" font-size="7.9" text-anchor="end">20</text>
<line x1="263.9" y1="368.6" x2="266.5" y2="368.6" stroke="#111" stroke-width="1.1"/>
<text transform="translate(260.4 371.7) scale(1 1.1)" font-size="7.9" text-anchor="end">0</text>
<line x1="266.5" y1="368.6" x2="327.7" y2="368.6" stroke="#111" stroke-width="1.1"/>
<line x1="283.7" y1="368.6" x2="283.7" y2="370.8" stroke="#111" stroke-width="1.1"/>
<line x1="309.6" y1="368.6" x2="309.6" y2="370.8" stroke="#111" stroke-width="1.1"/>
<rect x="275" y="359.2" width="17.2" height="9.5" fill="#111"/>
<rect x="300.9" y="356.2" width="17.3" height="12.5" fill="#111"/>
<text transform="translate(281.4 379.3) scale(1 1.1)" font-size="8.8" text-anchor="middle">WT</text>
<text transform="translate(307.6 379.3) scale(1 1.1)" font-size="8.8" text-anchor="middle">DKO</text>
<text transform="translate(240.2 324.3) rotate(-90) scale(1 1.1)" font-size="8.6" text-anchor="middle" dominant-baseline="central">% mortality</text>
<text transform="translate(325.6 276.2) scale(1 1.1)" font-size="8" class="pl" font-weight="bold">e</text>
<line x1="356.6" y1="276.6" x2="356.6" y2="368.62" stroke="#111" stroke-width="1.1"/>
<line x1="354" y1="277.1" x2="356.6" y2="277.1" stroke="#111" stroke-width="1.1"/>
<text transform="translate(340.28 280.8) scale(1 1.1)" font-size="8.4">10<tspan font-size="4.8" dy="-2.9">9</tspan></text>
<line x1="354" y1="288.54" x2="356.6" y2="288.54" stroke="#111" stroke-width="1.1"/>
<text transform="translate(340.28 292.24) scale(1 1.1)" font-size="8.4">10<tspan font-size="4.8" dy="-2.9">8</tspan></text>
<line x1="354" y1="299.98" x2="356.6" y2="299.98" stroke="#111" stroke-width="1.1"/>
<text transform="translate(340.28 303.68) scale(1 1.1)" font-size="8.4">10<tspan font-size="4.8" dy="-2.9">7</tspan></text>
<line x1="354" y1="311.42" x2="356.6" y2="311.42" stroke="#111" stroke-width="1.1"/>
<text transform="translate(340.28 315.12) scale(1 1.1)" font-size="8.4">10<tspan font-size="4.8" dy="-2.9">6</tspan></text>
<line x1="354" y1="322.86" x2="356.6" y2="322.86" stroke="#111" stroke-width="1.1"/>
<text transform="translate(340.28 326.56) scale(1 1.1)" font-size="8.4">10<tspan font-size="4.8" dy="-2.9">5</tspan></text>
<line x1="354" y1="334.3" x2="356.6" y2="334.3" stroke="#111" stroke-width="1.1"/>
<text transform="translate(340.28 338) scale(1 1.1)" font-size="8.4">10<tspan font-size="4.8" dy="-2.9">4</tspan></text>
<line x1="354" y1="345.74" x2="356.6" y2="345.74" stroke="#111" stroke-width="1.1"/>
<text transform="translate(340.28 349.44) scale(1 1.1)" font-size="8.4">10<tspan font-size="4.8" dy="-2.9">3</tspan></text>
<line x1="354" y1="357.18" x2="356.6" y2="357.18" stroke="#111" stroke-width="1.1"/>
<text transform="translate(340.28 360.88) scale(1 1.1)" font-size="8.4">10<tspan font-size="4.8" dy="-2.9">2</tspan></text>
<line x1="354" y1="368.62" x2="356.6" y2="368.62" stroke="#111" stroke-width="1.1"/>
<text transform="translate(340.28 372.32) scale(1 1.1)" font-size="8.4">10<tspan font-size="4.8" dy="-2.9">1</tspan></text>
<line x1="356.9" y1="368.6" x2="451.5" y2="368.6" stroke="#111" stroke-width="1.1"/>
<line x1="371.4" y1="368.6" x2="371.4" y2="370.8" stroke="#111" stroke-width="1.1"/>
<line x1="392.9" y1="368.6" x2="392.9" y2="370.8" stroke="#111" stroke-width="1.1"/>
<line x1="414.6" y1="368.6" x2="414.6" y2="370.8" stroke="#111" stroke-width="1.1"/>
<line x1="436.5" y1="368.6" x2="436.5" y2="370.8" stroke="#111" stroke-width="1.1"/>
<line x1="356.9" y1="357.2" x2="450.8" y2="357.2" stroke="#6a6a6a" stroke-width="0.8"/>
<text transform="translate(450.9 356.5) scale(1 1.1)" font-size="5.75" text-anchor="end" fill="#222">Limit of detection</text>
<text transform="translate(404.4 273.2) scale(1 1.1)" font-size="8.4" text-anchor="middle">SPLEEN</text>
<text transform="translate(334.3 320.8) rotate(-90) scale(1 1.1)" font-size="8.5" text-anchor="middle" dominant-baseline="central">cfu/ml</text>
<text transform="translate(370.4 380) scale(1 1.1)" font-size="8.8" text-anchor="middle">WT</text>
<text transform="translate(393.5 380) scale(1 1.1)" font-size="8.8" text-anchor="middle">DKO</text>
<text transform="translate(413.5 380) scale(1 1.1)" font-size="8.8" text-anchor="middle">WT</text>
<text transform="translate(436.8 380) scale(1 1.1)" font-size="8.8" text-anchor="middle">DKO</text>
<line x1="368.2" y1="383" x2="393.4" y2="383" stroke="#666" stroke-width="1.4"/>
<line x1="412.3" y1="383" x2="437.7" y2="383" stroke="#666" stroke-width="1.4"/>
<text transform="translate(380.6 391.8) scale(1 1.1)" font-size="8.8" text-anchor="middle">MALE</text>
<text transform="translate(424.6 391.8) scale(1 1.1)" font-size="8.8" text-anchor="middle">FEMALE</text>
<circle cx="371.4" cy="280.2" r="2.1" fill="#111"/>
<circle cx="374" cy="290.8" r="2.1" fill="#111"/>
<circle cx="368.6" cy="294.3" r="2.1" fill="#111"/>
<circle cx="371.4" cy="307.5" r="2.1" fill="#111"/>
<circle cx="371.4" cy="318.6" r="2.1" fill="#111"/>
<circle cx="371.1" cy="327.9" r="2.1" fill="#111"/>
<circle cx="368.6" cy="336.4" r="2.1" fill="#111"/>
<circle cx="371.1" cy="335.3" r="2.1" fill="#111"/>
<circle cx="376.8" cy="341.2" r="2.1" fill="#111"/>
<circle cx="373.9" cy="345.3" r="2.1" fill="#111"/>
<circle cx="368.2" cy="347.3" r="2.1" fill="#111"/>
<circle cx="366.6" cy="353.8" r="2.1" fill="#111"/>
<circle cx="371.1" cy="353.8" r="2.1" fill="#111"/>
<circle cx="375.6" cy="353.8" r="2.1" fill="#111"/>
<circle cx="368.6" cy="368.6" r="2.1" fill="#111"/>
<circle cx="371.1" cy="368.6" r="2.1" fill="#111"/>
<circle cx="373.5" cy="368.6" r="2.1" fill="#111"/>
<line x1="364.3" y1="345.3" x2="378.3" y2="345.3" stroke="#000" stroke-width="1.1"/>
<circle cx="390.3" cy="296.9" r="2.1" fill="#111"/>
<circle cx="395.7" cy="296.2" r="2.1" fill="#111"/>
<circle cx="392.9" cy="319.1" r="2.1" fill="#111"/>
<circle cx="392.9" cy="349.2" r="2.1" fill="#111"/>
<circle cx="389.1" cy="353.8" r="2.1" fill="#111"/>
<circle cx="396.8" cy="353.8" r="2.1" fill="#111"/>
<circle cx="391" cy="357.6" r="2.1" fill="#111"/>
<circle cx="393.3" cy="358" r="2.1" fill="#111"/>
<circle cx="395.6" cy="357.4" r="2.1" fill="#111"/>
<circle cx="388" cy="368.6" r="2.1" fill="#111"/>
<circle cx="391" cy="368.6" r="2.1" fill="#111"/>
<circle cx="394.5" cy="368.6" r="2.1" fill="#111"/>
<circle cx="397.5" cy="368.6" r="2.1" fill="#111"/>
<line x1="385.7" y1="357.3" x2="400" y2="357.3" stroke="#000" stroke-width="1.1"/>
<circle cx="411.8" cy="332.3" r="2.1" fill="#111"/>
<circle cx="417.4" cy="328.1" r="2.1" fill="#111"/>
<circle cx="411.8" cy="345.3" r="2.1" fill="#111"/>
<circle cx="417.4" cy="348.6" r="2.1" fill="#111"/>
<circle cx="414.6" cy="368.6" r="2.1" fill="#111"/>
<circle cx="436.5" cy="302.1" r="2.1" fill="#111"/>
<circle cx="433.5" cy="311.1" r="2.1" fill="#111"/>
<circle cx="439.4" cy="309.9" r="2.1" fill="#111"/>
<circle cx="433.5" cy="337.5" r="2.1" fill="#111"/>
<circle cx="439.4" cy="340.3" r="2.1" fill="#111"/>
<circle cx="436.5" cy="368.6" r="2.1" fill="#111"/>
</svg>
</body></html>
